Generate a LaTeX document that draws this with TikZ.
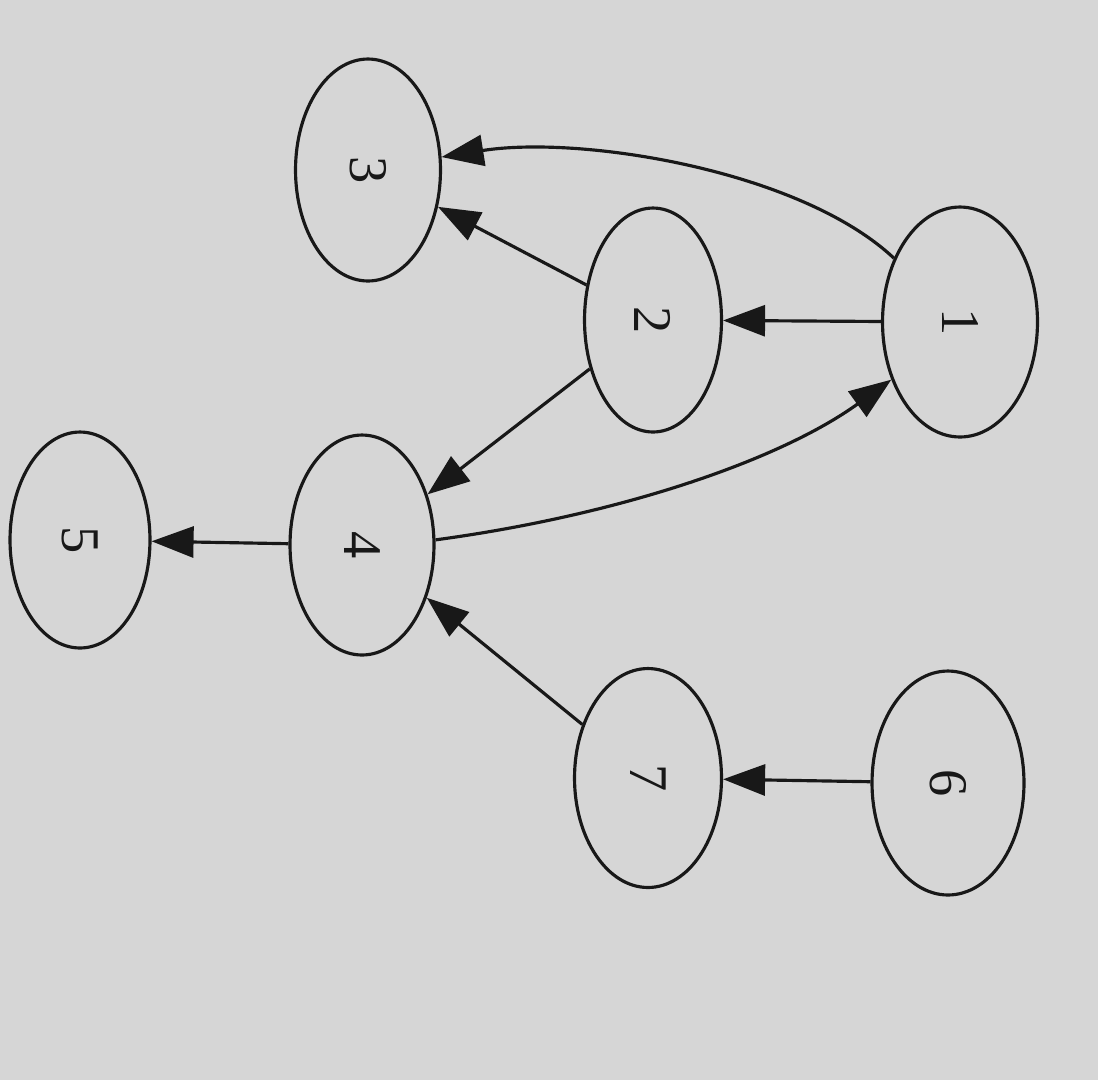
\documentclass[tikz,border=0pt]{standalone}
\usepackage{fontspec}
\setmainfont{Liberation Serif}
\usetikzlibrary{shapes.geometric,arrows.meta}
\definecolor{bg}{RGB}{214,214,214}
\definecolor{ink}{RGB}{24,24,24}
\tikzset{
  ell/.style={ellipse, draw=ink, line width=1.8pt, inner sep=0pt,
    font=\fontsize{31}{36}\selectfont, text=ink},
  edge/.style={draw=ink, line width=1.8pt,
    -{Triangle[length=0.84cm, width=0.62cm]}}
}
\begin{document}
\begin{tikzpicture}[x=0.02cm, y=-0.02cm]
\fill[bg] (0,0) rectangle (1098,1080);
\useasboundingbox (0,0) rectangle (1098,1080);
\node[ell, minimum width=2.9cm, minimum height=4.44cm] (n3) at (368,170) {\rotatebox{-90}{3}};
\node[ell, minimum width=2.74cm, minimum height=4.48cm] (n2) at (653,320) {\rotatebox{-90}{2}};
\node[ell, minimum width=3.1cm, minimum height=4.6cm] (n1) at (960,322) {\rotatebox{-90}{1}};
\node[ell, minimum width=2.8cm, minimum height=4.32cm] (n5) at (80,540) {\rotatebox{-90}{5}};
\node[ell, minimum width=2.88cm, minimum height=4.4cm] (n4) at (362,545) {\rotatebox{-90}{4}};
\node[ell, minimum width=2.94cm, minimum height=4.38cm] (n7) at (648,778) {\rotatebox{-90}{7}};
\node[ell, minimum width=3.04cm, minimum height=4.48cm] (n6) at (948,783) {\rotatebox{-90}{6}};
\draw[edge] (n1.136) .. controls (800,170) and (580,135) .. (n3.10);
\draw[edge] (n2) -- (n3);
\draw[edge] (n1) -- (n2);
\draw[edge] (n2) -- (n4);
\draw[edge] (n4.4) .. controls (620,515) and (780,460) .. (n1.220);
\draw[edge] (n4) -- (n5);
\draw[edge] (n7) -- (n4);
\draw[edge] (n6) -- (n7);
\end{tikzpicture}
\end{document}
